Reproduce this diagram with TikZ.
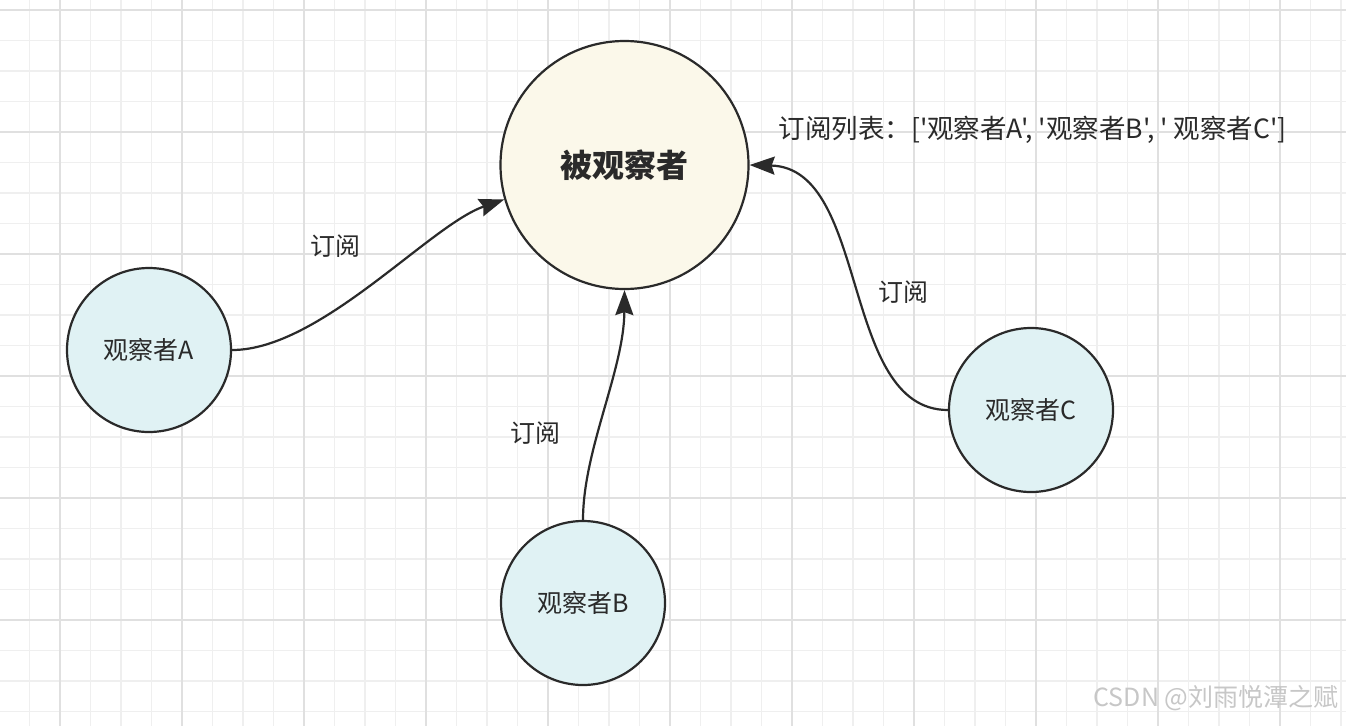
\documentclass[tikz,border=0pt]{standalone}
\usepackage{fontspec}
\setmainfont{Noto Sans CJK SC}[Ligatures=TeXOff]
\usepackage{xcolor}
\usetikzlibrary{arrows.meta}
\definecolor{ink}{HTML}{2A2A2A}
\definecolor{cream}{HTML}{FBF8EA}
\definecolor{ice}{HTML}{E0F2F4}
\definecolor{gridminor}{HTML}{EFEFEF}
\definecolor{gridmajor}{HTML}{E0E0E0}

\begin{document}
\begin{tikzpicture}[
                  x = 1pt, y = -1pt,
                  font      = \fontsize{25}{29}\selectfont,
                  subj/.style = {circle, draw=ink, line width=2.2pt, fill=cream, minimum size=248pt, inner sep=0pt,
                                 text=ink, font=\fontsize{32}{36}\selectfont\bfseries},
                  obs/.style  = {circle, draw=ink, line width=2.2pt, fill=ice, minimum size=164pt, inner sep=0pt,
                                 text=ink, font=\fontsize{25}{29}\selectfont},
                  lbl/.style  = {text=ink, inner sep=0pt},
                  sub/.style  = {-{Stealth[length=25pt, width=18pt, inset=3pt]}, line width=2.2pt, ink}
            ]
            \useasboundingbox (0,0) rectangle (1346,726);
            \fill[white] (0,0) rectangle (1346,726);

            % raster - sitna mreza svakih 30.5, gruba svakih 122
            \foreach \i in {-1,...,42} \draw[gridminor, line width=1.3pt] ({60+30.5*\i},0) -- ({60+30.5*\i},726);
            \foreach \j in {0,...,23}  \draw[gridminor, line width=1.3pt] (0,{10+30.5*\j}) -- (1346,{10+30.5*\j});
            \foreach \i in {0,...,10}  \draw[gridmajor, line width=1.6pt] ({60+122*\i},0) -- ({60+122*\i},726);
            \foreach \j in {0,...,5}   \draw[gridmajor, line width=1.6pt] (0,{10+122*\j}) -- (1346,{10+122*\j});

            \node[subj] (subject) at (624.5,165) {被观察者};
            \node[obs]  (obsA)    at (149,350)   {观察者A};
            \node[obs]  (obsB)    at (583,603)   {观察者B};
            \node[obs]  (obsC)    at (1031,410)  {观察者C};

            % pretplate prema subjektu
            \draw[sub] (obsA.east)  .. controls (320,350) and (430,225) .. (subject.196);
            \draw[sub] (obsB.north) .. controls (583,450) and (624,370) .. (subject.south);
            \draw[sub] (obsC.west)  .. controls (840,410) and (870,168) .. (subject.east);

            \node[lbl] (lblA) at (335,246) {订阅};
            \node[lbl] (lblB) at (535,433) {订阅};
            \node[lbl] (lblC) at (903,292) {订阅};
            \node[lbl, font=\fontsize{26.5}{30}\selectfont] (list) at (1032.5,130) {订阅列表：['观察者A', '观察者B', ' 观察者C']};

            \node[text=black!22, font=\fontsize{25}{28}\selectfont] (mark) at (1216,698) {CSDN @刘雨悦潭之赋};
      \end{tikzpicture}
\end{document}
